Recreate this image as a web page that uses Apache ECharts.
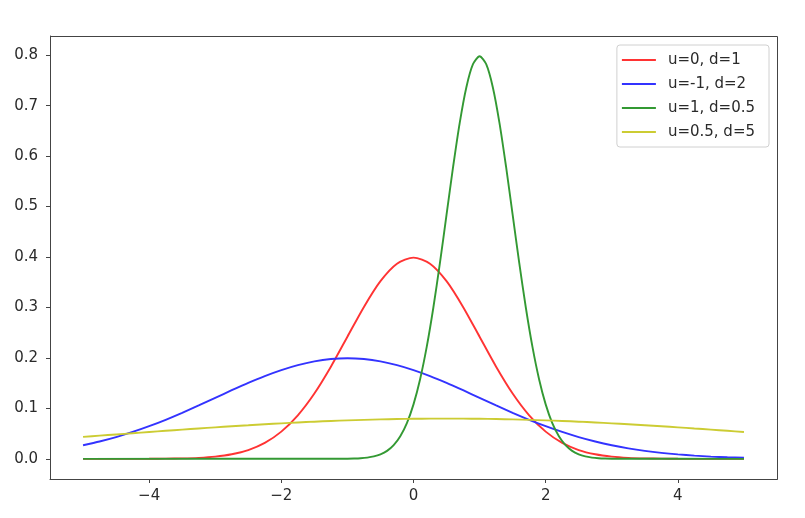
<!DOCTYPE html>
<html>
<head>
<meta charset="utf-8">
<script src="https://cdn.jsdelivr.net/npm/echarts@6/dist/echarts.min.js"></script>
<style>html,body{margin:0;padding:0;background:#fff}#c{width:805px;height:518px}</style>
</head>
<body>
<div id="c"></div>
<script>
// x samples (step 0.25) for the broad curves
const xBroad = [-5,-4.75,-4.5,-4.25,-4,-3.75,-3.5,-3.25,-3,-2.75,-2.5,-2.25,-2,-1.75,-1.5,-1.25,-1,-0.75,-0.5,-0.25,0,0.25,0.5,0.75,1,1.25,1.5,1.75,2,2.25,2.5,2.75,3,3.25,3.5,3.75,4,4.25,4.5,4.75,5];
const redY = [0,0,0,0,0.0001,0.0004,0.0009,0.0020,0.0044,0.0091,0.0175,0.0317,0.0540,0.0863,0.1295,0.1826,0.2420,0.3011,0.3521,0.3867,0.3989,0.3867,0.3521,0.3011,0.2420,0.1826,0.1295,0.0863,0.0540,0.0317,0.0175,0.0091,0.0044,0.0020,0.0009,0.0004,0.0001,0,0,0,0];
const blueY = [0.0270,0.0344,0.0431,0.0533,0.0648,0.0775,0.0913,0.1059,0.1210,0.1360,0.1506,0.1641,0.1760,0.1859,0.1933,0.1979,0.1995,0.1979,0.1933,0.1859,0.1760,0.1641,0.1506,0.1360,0.1210,0.1059,0.0913,0.0775,0.0648,0.0533,0.0431,0.0344,0.0270,0.0209,0.0159,0.0119,0.0088,0.0064,0.0045,0.0032,0.0022];
const yellowY = [0.0436,0.0460,0.0484,0.0508,0.0532,0.0556,0.0579,0.0602,0.0625,0.0646,0.0666,0.0686,0.0704,0.0721,0.0737,0.0751,0.0763,0.0773,0.0782,0.0789,0.0794,0.0797,0.0798,0.0797,0.0794,0.0789,0.0782,0.0773,0.0763,0.0751,0.0737,0.0721,0.0704,0.0686,0.0666,0.0646,0.0625,0.0602,0.0579,0.0556,0.0532];
// x samples for the narrow curve
const xNarrow = [-5,-1,-0.9,-0.8,-0.7,-0.6,-0.5,-0.4,-0.3,-0.2,-0.1,0,0.1,0.2,0.3,0.4,0.5,0.6,0.7,0.8,0.9,1,1.1,1.2,1.3,1.4,1.5,1.6,1.7,1.8,1.9,2,2.1,2.2,2.3,2.4,2.5,2.6,2.7,2.8,2.9,3,5];
const greenY = [0,0.0003,0.0006,0.0012,0.0025,0.0048,0.0089,0.0158,0.0271,0.0448,0.0709,0.1080,0.1579,0.2218,0.2995,0.3884,0.4839,0.5794,0.6665,0.7366,0.7821,0.7979,0.7821,0.7366,0.6665,0.5794,0.4839,0.3884,0.2995,0.2218,0.1579,0.1080,0.0709,0.0448,0.0271,0.0158,0.0089,0.0048,0.0025,0.0012,0.0006,0.0003,0];
const seriesNames = ['u=0, d=1','u=-1, d=2','u=1, d=0.5','u=0.5, d=5'];
const xTicks = [-4,-2,0,2,4];
const yTicks = [0,0.1,0.2,0.3,0.4,0.5,0.6,0.7,0.8];

const colors = ['#ff3333','#3333ff','#339933','#cccc33'];
const zip = (xs, ys) => xs.map((x, i) => [x, ys[i]]);
const datasets = [zip(xBroad, redY), zip(xBroad, blueY), zip(xNarrow, greenY), zip(xBroad, yellowY)];

const chart = echarts.init(document.getElementById('c'));
const font = 'DejaVu Sans';
const frameColor = '#444';
const XMIN = -5.5, XMAX = 5.5, YMIN = -0.0399, YMAX = 0.838;
chart.setOption({
  animation: false,
  backgroundColor: '#fff',
  grid: {left: 50, right: 28, top: 36, bottom: 39},
  xAxis: {
    type: 'value', min: XMIN, max: XMAX, position: 'bottom',
    axisLine: {show: true, onZero: false, lineStyle: {color: frameColor, width: 1}},
    axisTick: {show: true, length: 4, customValues: xTicks, lineStyle: {color: frameColor}},
    axisLabel: {customValues: xTicks, margin: 10, color: '#2a2a2a', fontFamily: font, fontSize: 15,
      formatter: v => String(v).replace('-', '\u2212')},
    splitLine: {show: false}
  },
  yAxis: {
    type: 'value', min: YMIN, max: YMAX, position: 'left',
    axisLine: {show: true, onZero: false, lineStyle: {color: frameColor, width: 1}},
    axisTick: {show: true, length: 4, customValues: yTicks, lineStyle: {color: frameColor}},
    axisLabel: {customValues: yTicks, margin: 12, color: '#2a2a2a', fontFamily: font, fontSize: 15,
      formatter: v => v.toFixed(1)},
    splitLine: {show: false}
  },
  legend: {
    orient: 'vertical', right: 36, top: 45,
    padding: [7, 14, 7, 5],
    icon: 'rect', itemWidth: 34, itemHeight: 2, itemGap: 8,
    backgroundColor: '#fff', borderColor: '#d0d0d0', borderWidth: 1, borderRadius: 3,
    textStyle: {fontFamily: font, fontSize: 15, color: '#2a2a2a', padding: [0, 0, 0, 7], lineHeight: 16},
    data: seriesNames
  },
  series: seriesNames.map((n, i) => ({
    name: n, type: 'line', data: datasets[i], symbol: 'none', smooth: 0.25,
    lineStyle: {color: colors[i], width: 1.9}, itemStyle: {color: colors[i]}
  }))
});
// plot frame (top & right spines) placed via the chart's own scales
const p0 = chart.convertToPixel({gridIndex: 0}, [XMIN, YMAX]);
const p1 = chart.convertToPixel({gridIndex: 0}, [XMAX, YMIN]);
chart.setOption({
  graphic: [{
    type: 'rect', z: 1, silent: true,
    shape: {x: Math.round(p0[0]) + 0.5, y: Math.round(p0[1]) + 0.5, width: Math.round(p1[0] - p0[0]), height: Math.round(p1[1] - p0[1])},
    style: {fill: 'none', stroke: frameColor, lineWidth: 1}
  }]
});
</script>
</body>
</html>
